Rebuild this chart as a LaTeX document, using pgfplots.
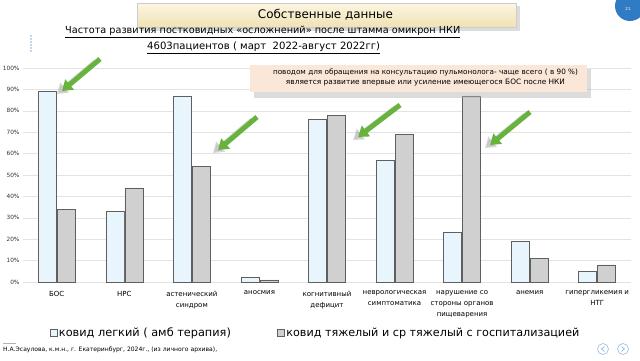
\documentclass[border=0pt]{standalone}
\usepackage{pgfplots}
\pgfplotsset{compat=1.18}
\usepackage{fontspec}
\setmainfont{DejaVu Sans}
\usetikzlibrary{arrows.meta}
\definecolor{lightbar}{RGB}{232,245,253}
\definecolor{graybar}{RGB}{208,208,208}
\definecolor{bardraw}{RGB}{95,95,95}
\definecolor{arrowgreen}{RGB}{104,178,62}
\definecolor{boxfill}{RGB}{250,231,216}
\definecolor{headtop}{RGB}{252,246,226}
\definecolor{headbot}{RGB}{240,226,180}
\definecolor{pageblue}{RGB}{47,124,196}
\begin{document}
\begin{tikzpicture}
\path[use as bounding box] (0pt,0pt) rectangle (640pt,-360pt);
\fill[white] (0pt,0pt) rectangle (640pt,-360pt);
\begin{scope}[x=1pt,y=-1pt]
  % header box
  \fill[gray!60,opacity=0.45] (140,6) rectangle (520,31);
  \shade[top color=headtop,bottom color=headbot,draw=gray!40] (137,3) rectangle (516,27);
  \node[inner sep=0pt] at (325.5,15) {\resizebox{135pt}{!}{Собственные данные}};
  % page number
  \begin{scope}
    \clip (0,0) rectangle (640,360);
    \fill[pageblue] (630,6) circle (15);
  \end{scope}
  \node[white,font=\fontsize{4}{5}\selectfont] at (628,9) {21};
  % dotted decoration
  \foreach \yy in {36,39,42,45,48,51}{\fill[pageblue!60] (31,\yy) circle (0.9);}
  % titles
  \node[anchor=west,inner sep=0pt] at (65,32) {\resizebox{395pt}{!}{\underline{Частота развития постковидных «осложнений» после штамма омикрон НКИ}}};
  \node[anchor=west,inner sep=0pt] at (147,48) {\resizebox{233pt}{!}{\underline{4603пациентов ( март\ \ 2022-август 2022гг)}}};
\end{scope}

\begin{axis}[
  at={(23pt,-282pt)}, anchor=south west,
  scale only axis, width=608pt, height=214pt,
  ymin=0, ymax=100, xmin=-0.5, xmax=8.5,
  ybar=1pt, bar width=18pt,
  xtick=data,
  xticklabels={БОС,НРС,{астенический\\синдром},аносмия,{когнитивный\\дефицит},{неврологическая\\симптоматика},{нарушение со\\стороны органов\\пищеварения},анемия,{гипергликемия и\\НТГ}},
  xticklabel style={font=\fontsize{7}{11}\selectfont,align=center,yshift=-1pt},
  ytick={0,10,...,100},
  yticklabel={\pgfmathprintnumber{\tick}\%},
  /pgf/number format/assume math mode=true,
  yticklabel style={font=\fontsize{5.8}{7}\selectfont,text=black!80},
  ymajorgrids,
  major grid style={gray!22,line width=0.6pt},
  axis line style={draw=none},
  tick style={draw=none},
  legend style={at={(0.481,-0.238)},anchor=center,draw=none,fill=none,
    legend columns=2,
    /tikz/every even column/.append style={column sep=44pt}},
  legend image code/.code={\draw[#1,line width=0.4pt] (0pt,-3pt) rectangle (7pt,4pt);},
]
\addplot[fill=lightbar,draw=bardraw,line width=0.6pt] coordinates {(0,89) (1,33) (2,87) (3,2) (4,76) (5,57) (6,23) (7,19) (8,5)};
\addlegendentry{\resizebox{172pt}{!}{ковид легкий ( амб терапия)}}
\addplot[fill=graybar,draw=bardraw,line width=0.6pt] coordinates {(0,34) (1,44) (2,54) (3,1) (4,78) (5,69) (6,87) (7,11) (8,8)};
\addlegendentry{\resizebox{293pt}{!}{ковид тяжелый и ср тяжелый с госпитализацией}}
\end{axis}

\begin{scope}[x=1pt,y=-1pt]
  % annotation box
  \fill[gray!60,opacity=0.45] (254,69) rectangle (591,98);
  \fill[boxfill] (250,65) rectangle (587,92);
  \node[inner sep=0pt] at (425.5,72) {\resizebox{305pt}{!}{поводом для обращения на консультацию пульмонолога- чаще всего ( в 90 \%)}};
  \node[inner sep=0pt] at (425.5,83) {\resizebox{279pt}{!}{является развитие впервые или усиление имеющегося БОС после НКИ}};
  % arrows
  \foreach \xa/\ya/\xb/\yb in {100/59/62/91, 257/117/218/150, 400/105/358/137, 530/112/490/145}{
    \draw[gray!60,opacity=0.5,line width=5pt,-{Triangle[width=13pt,length=10pt]}] (\xa-5,\ya+3) -- (\xb-5,\yb+3);
    \draw[arrowgreen,line width=5pt,-{Triangle[width=13pt,length=10pt]}] (\xa,\ya) -- (\xb,\yb);
  }
  % footnote
  \draw[gray!60,line width=0.4pt] (3,343) -- (16,343);
  \node[anchor=west,inner sep=0pt] at (3,350) {\resizebox{214pt}{!}{Н.А.Эсаулова, к.м.н., г. Екатеринбург, 2024г., (из личного архива),}};
  % navigation
  \draw[pageblue!50,line width=0.6pt] (603,349) circle (5.5);
  \draw[pageblue!50,line width=0.6pt] (623,349) circle (5.5);
  \draw[pageblue!60,line width=0.6pt] (604.5,346.5) -- (601.5,349) -- (604.5,351.5);
  \draw[pageblue!60,line width=0.6pt] (621.5,346.5) -- (624.5,349) -- (621.5,351.5);
\end{scope}
\end{tikzpicture}
\end{document}
